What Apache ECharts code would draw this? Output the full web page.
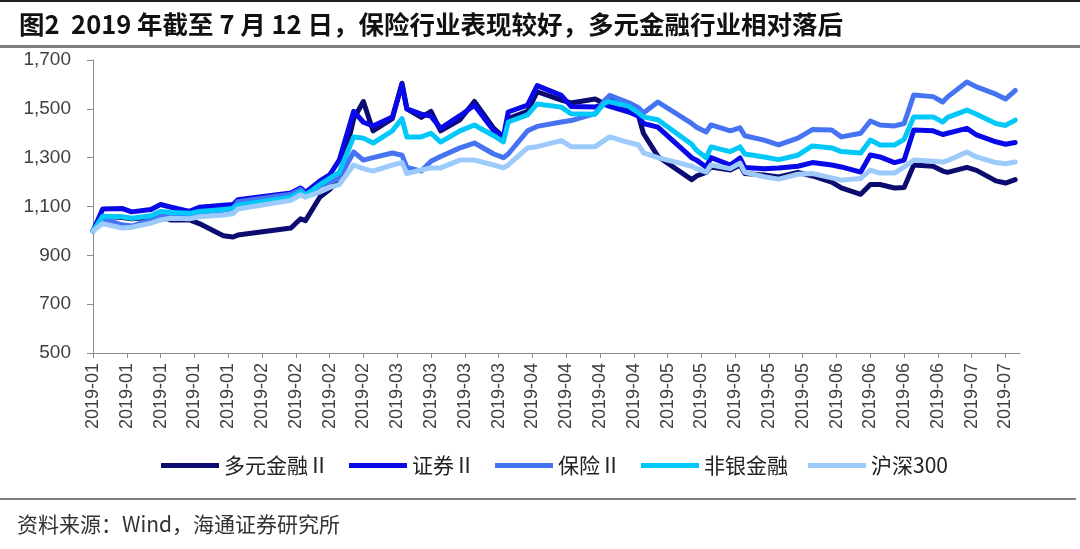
<!DOCTYPE html>
<html>
<head>
<meta charset="utf-8">
<script src="https://cdn.jsdelivr.net/npm/echarts@6/dist/echarts.min.js"></script>
<style>
  html, body { margin: 0; padding: 0; background: #fff; }
  #chart { width: 1080px; height: 549px; }
</style>
</head>
<body>
<div id="chart"></div>
<script>
// sample dates (2019)
var dates = [
  '01-02','01-04','01-08','01-10','01-14','01-16','01-18','01-22','01-24','01-29',
  '01-31','02-01','02-12','02-14','02-15','02-18','02-20','02-22','02-25','02-27',
  '03-01','03-05','03-07','03-08','03-11','03-13','03-15','03-19','03-22','03-26',
  '03-28','03-29','04-02','04-04','04-09','04-11','04-16','04-18','04-19','04-23',
  '04-25','04-26','04-29','05-06','05-07','05-09','05-10','05-14','05-16','05-17',
  '05-21','05-24','05-28','05-31','06-04','06-06','06-10','06-12','06-14','06-17',
  '06-19','06-21','06-25','06-27','06-28','07-02','07-04','07-08','07-10','07-12'
];

var duoyuan = [
  1000,1060,1055,1050,1055,1060,1045,1045,1030,980,
  975,983,1012,1050,1042,1139,1170,1210,1460,1530,
  1410,1460,1605,1500,1465,1490,1410,1455,1530,1420,
  1385,1460,1490,1570,1536,1524,1540,1520,1545,1500,
  1470,1400,1305,1210,1225,1240,1262,1249,1270,1235,
  1229,1221,1240,1225,1200,1176,1150,1190,1190,1176,
  1178,1270,1265,1245,1240,1260,1248,1205,1196,1210
];
var zhengquan = [
  1000,1090,1092,1078,1088,1108,1098,1080,1097,1105,
  1108,1128,1155,1176,1158,1205,1229,1290,1490,1445,
  1430,1467,1600,1500,1478,1470,1420,1472,1515,1410,
  1385,1487,1515,1595,1555,1510,1508,1518,1510,1487,
  1470,1440,1425,1300,1290,1262,1300,1270,1299,1260,
  1255,1258,1265,1280,1270,1262,1241,1311,1303,1280,
  1290,1413,1410,1395,1400,1420,1393,1365,1355,1362
];
var baoxian = [
  1000,1050,1025,1020,1045,1060,1068,1065,1075,1085,
  1092,1120,1150,1170,1150,1185,1200,1215,1323,1290,
  1300,1319,1310,1260,1245,1285,1305,1340,1360,1315,
  1300,1315,1410,1428,1446,1452,1480,1535,1555,1525,
  1505,1483,1528,1440,1425,1405,1434,1410,1422,1390,
  1372,1352,1380,1415,1413,1385,1400,1450,1434,1430,
  1440,1557,1550,1528,1549,1610,1590,1560,1540,1575
];
var feiyin = [
  1000,1060,1058,1052,1062,1080,1075,1072,1080,1088,
  1092,1105,1138,1160,1145,1190,1215,1240,1385,1380,
  1360,1410,1460,1385,1385,1400,1364,1410,1434,1390,
  1365,1446,1475,1520,1507,1480,1478,1524,1530,1510,
  1483,1467,1455,1355,1330,1300,1344,1325,1344,1315,
  1303,1292,1310,1348,1340,1325,1319,1372,1352,1352,
  1375,1467,1467,1446,1465,1495,1478,1440,1432,1454
];
var hs300 = [
  1000,1030,1012,1015,1032,1045,1052,1050,1058,1065,
  1070,1090,1125,1148,1138,1160,1178,1190,1270,1255,
  1245,1270,1280,1235,1250,1258,1258,1290,1290,1270,
  1258,1270,1340,1345,1370,1345,1345,1372,1385,1362,
  1352,1320,1300,1265,1255,1241,1270,1255,1278,1240,
  1222,1212,1232,1235,1217,1208,1215,1249,1237,1237,
  1262,1290,1285,1282,1288,1323,1303,1280,1275,1282
];

var names = ['多元金融Ⅱ', '证券Ⅱ', '保险Ⅱ', '非银金融', '沪深300'];
var colors = ['#0c0c70', '#0808e8', '#4673f2', '#00c8f8', '#9ccafa'];
var values = [duoyuan, zhengquan, baoxian, feiyin, hs300];

// calendar days 2019-01-02 .. 2019-07-13, ticks every 7 days
var days = [];
var t0 = Date.UTC(2019, 0, 2);
for (var i = 0; i <= 192; i++) {
  days.push(new Date(t0 + i * 86400000).toISOString().slice(0, 10));
}

function toSeries(vals) {
  var arr = days.map(function () { return null; });
  dates.forEach(function (d, k) {
    arr[days.indexOf('2019-' + d)] = vals[k];
  });
  return arr;
}

var cjk = 'Noto Sans CJK SC';
var chart = echarts.init(document.getElementById('chart'));

chart.setOption({
  animation: false,
  backgroundColor: '#fff',
  title: {
    text: '图2  2019 年截至 7 月 12 日，保险行业表现较好，多元金融行业相对落后',
    left: 14,
    top: 7,
    textStyle: { fontFamily: cjk, fontSize: 25.5, fontWeight: 'bold', color: '#111' }
  },
  legend: {
    left: 156,
    top: 450,
    itemWidth: 58,
    itemHeight: 5,
    itemGap: 20,
    icon: 'rect',
    textStyle: { fontFamily: cjk, fontSize: 21, color: '#222' },
    data: names
  },
  grid: { left: 93, right: 60, top: 60, bottom: 196 },
  xAxis: {
    type: 'category',
    boundaryGap: false,
    data: days,
    axisLine: { lineStyle: { color: '#8c8c8c', width: 1 } },
    axisTick: { interval: 6, length: 5, lineStyle: { color: '#8c8c8c' } },
    axisLabel: {
      interval: 6,
      rotate: 90,
      margin: 10,
      fontFamily: 'Liberation Sans',
      fontSize: 18,
      color: '#404040',
      formatter: function (v) { return v.slice(0, 7); }
    },
    splitLine: { show: false }
  },
  yAxis: {
    type: 'value',
    min: 500,
    max: 1700,
    interval: 200,
    axisLine: { show: true, lineStyle: { color: '#8c8c8c', width: 1 } },
    axisTick: { show: true, length: 6, lineStyle: { color: '#8c8c8c' } },
    axisLabel: {
      margin: 22,
      fontFamily: 'Liberation Sans',
      fontSize: 19,
      color: '#404040',
      formatter: function (v) { return v.toLocaleString('en-US'); }
    },
    splitLine: { show: false }
  },
  series: names.map(function (n, k) {
    return {
      name: n,
      type: 'line',
      data: toSeries(values[k]),
      connectNulls: true,
      showSymbol: false,
      symbol: 'none',
      color: colors[k],
      lineStyle: { width: 5, color: colors[k], join: 'round', cap: 'round' }
    };
  }),
  graphic: [
    { type: 'line', shape: { x1: 0, y1: 1, x2: 1080, y2: 1 }, style: { stroke: '#222', lineWidth: 2 } },
    { type: 'line', shape: { x1: 0, y1: 46.5, x2: 1080, y2: 46.5 }, style: { stroke: '#7f7f7f', lineWidth: 3 } },
    { type: 'line', shape: { x1: 0, y1: 499, x2: 1076, y2: 499 }, style: { stroke: '#7f7f7f', lineWidth: 2 } },
    {
      type: 'text', left: 17, top: 514,
      style: { text: '资料来源：Wind，海通证券研究所', fontFamily: cjk, fontSize: 21, fill: '#333' }
    }
  ]
});
</script>
</body>
</html>
